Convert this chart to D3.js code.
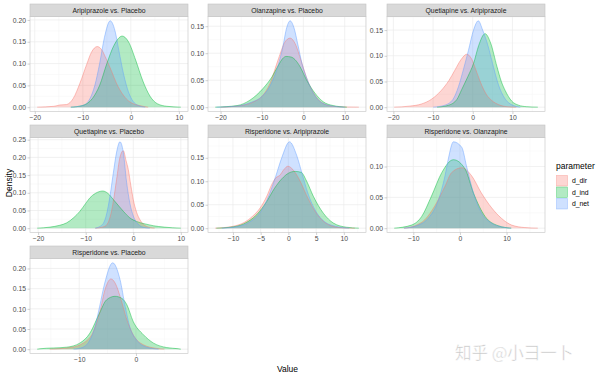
<!DOCTYPE html>
<html>
<head>
<meta charset="utf-8">
<script src="https://cdn.jsdelivr.net/npm/d3@7"></script>
<style>
  body { margin: 0; background: #fff; }
  svg { display: block; font-family: "Liberation Sans", Arial, sans-serif; }
</style>
</head>
<body>
<div id="chart"></div>
<script>
var svgWidth = 600;
var svgHeight = 378;

// facet titles and series
var panelTitles = [
  "Aripiprazole vs. Placebo", "Olanzapine vs. Placebo", "Quetiapine vs. Aripiprazole",
  "Quetiapine vs. Placebo", "Risperidone vs. Aripiprazole", "Risperidone vs. Olanzapine",
  "Risperidone vs. Placebo"
];
var seriesNames = ["d_dir", "d_ind", "d_net"];
var seriesColors = ["#F8766D", "#00BA38", "#619CFF"];

// density curves, [value, density]
var p1_dir = [[-19.5,0],[-16,0.002],[-14.8,0.005],[-13.4,0.006],[-12,0.02],[-10.6,0.055],[-9.2,0.098],[-8.2,0.126],[-7,0.139],[-6.1,0.132],[-5.1,0.11],[-4,0.082],[-3,0.055],[-1.6,0.028],[-0.2,0.012],[2.1,0.003],[3.6,0]];
var p1_ind = [[-12.5,0],[-10,0.004],[-8,0.02],[-6.5,0.05],[-5,0.1],[-3.5,0.142],[-1.8,0.163],[-0.5,0.15],[1,0.108],[2.5,0.06],[4,0.025],[5.5,0.008],[7.5,0.002],[10.4,0]];
var p1_net = [[-12.5,0],[-10,0.004],[-8.5,0.02],[-7.5,0.05],[-6.5,0.1],[-5.5,0.16],[-4.3,0.198],[-3.3,0.175],[-2.5,0.13],[-1.5,0.075],[-0.5,0.035],[0.5,0.013],[1.5,0.004],[3,0]];

var p2_dir = [[-20,0],[-15,0.003],[-12,0.01],[-10,0.02],[-8,0.045],[-6,0.09],[-4.5,0.12],[-3.2,0.128],[-2,0.118],[-0.5,0.085],[1,0.05],[3,0.02],[5,0.006],[8,0.001],[13.4,0]];
var p2_ind = [[-21.3,0],[-16,0.003],[-12.9,0.013],[-9.7,0.035],[-7.6,0.056],[-6,0.078],[-5,0.09],[-4.2,0.094],[-3,0.093],[-2,0.088],[-0.8,0.075],[0.8,0.05],[2.8,0.026],[4.8,0.01],[7.2,0.003],[10.5,0]];
var p2_net = [[-21,0],[-16,0.002],[-13,0.008],[-10,0.02],[-8,0.04],[-6,0.08],[-5,0.11],[-4,0.148],[-3.2,0.16],[-2.3,0.148],[-1.3,0.115],[-0.3,0.08],[1,0.05],[2.5,0.025],[4.5,0.008],[7,0.002],[10,0]];

var p3_dir = [[-19.8,0],[-16,0.002],[-13,0.006],[-10.3,0.016],[-8,0.032],[-6,0.052],[-4.5,0.072],[-3,0.092],[-1.5,0.103],[-0.3,0.094],[1,0.068],[2.3,0.042],[3.5,0.024],[4.8,0.013],[6.5,0.005],[8.5,0.001],[11,0]];
var p3_ind = [[-9,0],[-6,0.004],[-4,0.015],[-2.8,0.034],[-1.2,0.06],[0.2,0.085],[1.5,0.12],[3.1,0.143],[4.5,0.125],[6.1,0.079],[7.2,0.05],[8.2,0.032],[9.8,0.012],[11.5,0.004],[13.5,0.001],[16.4,0]];
var p3_net = [[-10,0],[-7,0.004],[-5,0.015],[-3.6,0.04],[-2.3,0.075],[-1.1,0.11],[0.2,0.15],[1.4,0.168],[2.5,0.15],[3.9,0.118],[5,0.085],[6.5,0.043],[8,0.018],[9.5,0.006],[12,0]];

var p4_dir = [[-8,0],[-6,0.005],[-4.9,0.03],[-4.2,0.075],[-3.5,0.138],[-2.8,0.2],[-2.1,0.219],[-1.5,0.19],[-1.05,0.166],[-0.5,0.12],[0,0.081],[0.7,0.045],[1.4,0.024],[2.8,0.005],[4.5,0]];
var p4_ind = [[-20.2,0],[-17.5,0.003],[-15.5,0.008],[-14,0.015],[-12.5,0.03],[-11.2,0.048],[-10,0.07],[-9.1,0.086],[-8,0.098],[-6.4,0.105],[-5.3,0.098],[-4.2,0.081],[-3,0.062],[-2.1,0.048],[-0.8,0.03],[0.7,0.019],[2.5,0.012],[4.2,0.007],[6.5,0.003],[10,0]];
var p4_net = [[-8,0],[-6.5,0.01],[-5.6,0.04],[-4.9,0.09],[-4.2,0.155],[-3.5,0.215],[-2.8,0.244],[-2.1,0.215],[-1.4,0.13],[-0.7,0.07],[0,0.035],[1,0.012],[2,0.003],[3.5,0]];

var p5_dir = [[-13.2,0],[-10,0.004],[-8,0.012],[-6.5,0.025],[-5.1,0.043],[-3.9,0.068],[-3,0.093],[-2.2,0.108],[-1.6,0.112],[-0.8,0.125],[-0.1,0.132],[0.8,0.125],[2,0.103],[3.2,0.072],[4.5,0.042],[6,0.018],[7.5,0.006],[9.5,0.001],[12,0]];
var p5_ind = [[-13,0],[-10.5,0.002],[-8.1,0.009],[-5.7,0.029],[-3.9,0.057],[-2.5,0.085],[-1.2,0.105],[0,0.117],[1.2,0.121],[2.3,0.119],[3.3,0.1],[4.5,0.068],[6.3,0.032],[8.1,0.011],[10.5,0.002],[12.7,0]];
var p5_net = [[-12,0],[-9,0.004],[-7,0.013],[-5,0.035],[-3.5,0.07],[-2.3,0.11],[-1.2,0.15],[0.2,0.184],[1.5,0.155],[2.5,0.115],[3.5,0.075],[5,0.035],[6.5,0.014],[8.5,0.004],[11,0]];

var p6_dir = [[-12,0],[-9.6,0.004],[-7.5,0.014],[-5.4,0.036],[-3.2,0.068],[-1.8,0.09],[0.4,0.098],[2.5,0.085],[4.6,0.057],[6.8,0.033],[8.9,0.016],[11.1,0.005],[13.9,0.001],[16.7,0]];
var p6_ind = [[-14.1,0],[-10.4,0.005],[-8.2,0.019],[-6.1,0.052],[-3.9,0.09],[-1.4,0.111],[1.1,0.096],[2.9,0.057],[5.4,0.019],[8.2,0.004],[11,0]];
var p6_net = [[-12,0],[-8.9,0.005],[-6.8,0.016],[-4.6,0.046],[-3.2,0.085],[-2.5,0.112],[-1.4,0.14],[0.4,0.131],[1.4,0.101],[2.9,0.057],[4.6,0.025],[6.8,0.008],[9,0.002],[11,0]];

var p7_dir = [[-15.2,0],[-11.6,0.004],[-9.3,0.015],[-7.5,0.044],[-6.4,0.09],[-5.4,0.15],[-4.4,0.174],[-3.6,0.162],[-2.8,0.131],[-1.6,0.073],[-0.5,0.036],[1.3,0.011],[3.6,0.002],[5,0]];
var p7_ind = [[-17.4,0],[-16.9,0.001],[-12.2,0.005],[-9.9,0.015],[-8.1,0.04],[-6.4,0.09],[-5.2,0.122],[-3.7,0.131],[-2.5,0.126],[-1.6,0.11],[-0.5,0.069],[1.3,0.036],[3.1,0.015],[5.4,0.004],[7.5,0.001],[7.9,0]];
var p7_net = [[-11,0],[-9.3,0.005],[-8.1,0.023],[-7.2,0.056],[-6.4,0.106],[-5.5,0.164],[-4.1,0.214],[-2.8,0.172],[-1.9,0.106],[-1.1,0.056],[0.1,0.023],[1.9,0.005],[4,0]];

var panelData = [
  [p1_dir, p1_ind, p1_net], [p2_dir, p2_ind, p2_net], [p3_dir, p3_ind, p3_net],
  [p4_dir, p4_ind, p4_net], [p5_dir, p5_ind, p5_net], [p6_dir, p6_ind, p6_net],
  [p7_dir, p7_ind, p7_net]
];

// tick values per panel
var xTicks = [[-20,-10,0,10],[-20,-10,0,10],[-20,-10,0,10],[-20,-10,0,10],[-10,-5,0,5,10],[-10,0,10],[-10,0]];
var yTicks = [[0,0.05,0.10,0.15,0.20],[0,0.05,0.10,0.15],[0,0.05,0.10,0.15],[0,0.05,0.10,0.15,0.20,0.25],[0,0.05,0.10,0.15],[0,0.05,0.10],[0,0.05,0.10,0.15,0.20]];

// layout
var colLeft = [30, 208, 387];
var rowTop = [4, 125, 246];
var panelW = 158, stripH = 12.5, panelH = 95;

var svg = d3.select("#chart")
  .append("svg")
  .attr("width", svgWidth)
  .attr("height", svgHeight);

function expand(lo, hi) {
  var d = (hi - lo) * 0.05;
  return [lo - d, hi + d];
}

function minorBreaks(ticks, dom) {
  var step = ticks[1] - ticks[0];
  var out = [];
  for (var i = -1; i < ticks.length; i++) {
    var v = ticks[0] + step * i + step / 2;
    if (v > dom[0] && v < dom[1]) out.push(v);
  }
  return out;
}

panelData.forEach(function (curves, i) {
  var left = colLeft[i % 3];
  var top = rowTop[Math.floor(i / 3)];
  var g = svg.append("g").attr("transform", `translate(${left}, ${top})`);
  var pTop = stripH;

  var allX = [], allY = [];
  curves.forEach(c => c.forEach(p => { allX.push(p[0]); allY.push(p[1]); }));
  var xDom = expand(d3.min(allX), d3.max(allX));
  var yDom = expand(0, d3.max(allY));

  var x = d3.scaleLinear().domain(xDom).range([0, panelW]);
  var y = d3.scaleLinear().domain(yDom).range([pTop + panelH, pTop]);

  // panel background + grid
  g.append("rect").attr("x", 0).attr("y", pTop).attr("width", panelW).attr("height", panelH)
    .attr("fill", "#fff");

  minorBreaks(xTicks[i], xDom).forEach(v => {
    g.append("line").attr("x1", x(v)).attr("x2", x(v)).attr("y1", pTop).attr("y2", pTop + panelH)
      .attr("stroke", "#f4f4f4").attr("stroke-width", 0.5);
  });
  minorBreaks(yTicks[i], yDom).forEach(v => {
    g.append("line").attr("y1", y(v)).attr("y2", y(v)).attr("x1", 0).attr("x2", panelW)
      .attr("stroke", "#f4f4f4").attr("stroke-width", 0.5);
  });
  xTicks[i].forEach(v => {
    g.append("line").attr("x1", x(v)).attr("x2", x(v)).attr("y1", pTop).attr("y2", pTop + panelH)
      .attr("stroke", "#ebebeb").attr("stroke-width", 0.7);
  });
  yTicks[i].forEach(v => {
    g.append("line").attr("y1", y(v)).attr("y2", y(v)).attr("x1", 0).attr("x2", panelW)
      .attr("stroke", "#ebebeb").attr("stroke-width", 0.7);
  });

  // densities
  var area = d3.area().x(d => x(d[0])).y0(y(0)).y1(d => y(d[1])).curve(d3.curveMonotoneX);
  var line = d3.line().x(d => x(d[0])).y(d => y(d[1])).curve(d3.curveMonotoneX);
  curves.forEach(function (c, s) {
    g.append("path").attr("d", area(c)).attr("fill", seriesColors[s]).attr("fill-opacity", 0.3);
  });
  curves.forEach(function (c, s) {
    g.append("path").attr("d", line(c)).attr("fill", "none")
      .attr("stroke", seriesColors[s]).attr("stroke-opacity", 0.75).attr("stroke-width", 0.6);
  });

  // border
  g.append("rect").attr("x", 0).attr("y", pTop).attr("width", panelW).attr("height", panelH)
    .attr("fill", "none").attr("stroke", "#c4c4c4").attr("stroke-width", 0.6);

  // strip
  g.append("rect").attr("x", 0).attr("y", 0).attr("width", panelW).attr("height", stripH)
    .attr("fill", "#d9d9d9").attr("stroke", "#c4c4c4").attr("stroke-width", 0.6);
  g.append("text").attr("x", panelW / 2).attr("y", stripH / 2 + 2.4)
    .attr("text-anchor", "middle").attr("font-size", "6.8px").attr("fill", "#1a1a1a")
    .text(panelTitles[i]);

  // axes
  var xAxis = g.append("g").attr("transform", `translate(0, ${pTop + panelH})`)
    .call(d3.axisBottom(x).tickValues(xTicks[i]).tickSize(2.5).tickPadding(1.5).tickFormat(d3.format("d")));
  var yAxis = g.append("g")
    .call(d3.axisLeft(y).tickValues(yTicks[i]).tickSize(2.5).tickPadding(1.5).tickFormat(d3.format(".2f")));
  [xAxis, yAxis].forEach(a => {
    a.select(".domain").remove();
    a.selectAll(".tick line").attr("stroke", "#b3b3b3").attr("stroke-width", 0.6);
    a.selectAll(".tick text").attr("fill", "#4d4d4d").attr("font-size", "6.8px")
      .attr("font-family", "Liberation Sans, Arial, sans-serif");
  });
});

// axis titles
svg.append("text").attr("x", 287.5).attr("y", 372).attr("text-anchor", "middle")
  .attr("font-size", "8.5px").attr("fill", "#000").text("Value");
svg.append("text").attr("transform", "translate(12, 183) rotate(-90)").attr("text-anchor", "middle")
  .attr("font-size", "8.5px").attr("fill", "#000").text("Density");

// legend
var legend = svg.append("g").attr("transform", "translate(556, 160)");
legend.append("text").attr("x", 0).attr("y", 9).attr("font-size", "8.5px").attr("fill", "#000")
  .text("parameter");
seriesNames.forEach(function (name, s) {
  var yy = 15 + s * 11.5;
  legend.append("rect").attr("x", 0.5).attr("y", yy + 0.5).attr("width", 11).attr("height", 10.5)
    .attr("fill", seriesColors[s]).attr("fill-opacity", 0.3)
    .attr("stroke", seriesColors[s]).attr("stroke-opacity", 0.5).attr("stroke-width", 0.6);
  legend.append("text").attr("x", 16).attr("y", yy + 8.2).attr("font-size", "6.8px").attr("fill", "#000")
    .text(name);
});

// watermark
svg.append("text").attr("x", 455).attr("y", 359)
  .attr("font-family", "Noto Sans CJK SC, sans-serif").attr("font-size", "16.5px")
  .attr("fill", "#c4c4c4").attr("stroke", "#fff").attr("stroke-width", 0.5)
  .text("知乎 @小彐一卜");
</script>
</body>
</html>
